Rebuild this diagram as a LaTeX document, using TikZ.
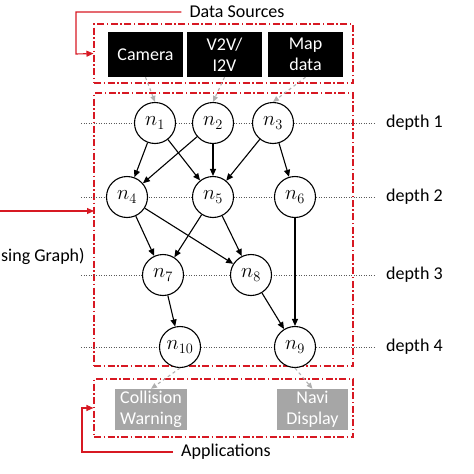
\documentclass[tikz,border=0pt]{standalone}
\usepackage{fontspec}
\setmainfont{Carlito}
\usetikzlibrary{arrows.meta}
\definecolor{boxred}{RGB}{215,25,35}
\definecolor{appgray}{RGB}{166,166,166}
\definecolor{arrgray}{RGB}{175,175,175}
\definecolor{dotgray}{RGB}{90,90,90}
\begin{document}
\begin{tikzpicture}[x=1pt,y=-1pt,
  every node/.style={font=\fontsize{18}{21}\selectfont},
  grpbox/.style={draw=boxred,line width=1.1pt,dash pattern=on 7pt off 2.5pt on 1.5pt off 2.5pt},
  srcbox/.style={fill=black,text=white,minimum width=75pt,minimum height=45pt,align=center,inner sep=0pt},
  appbox/.style={fill=appgray,text=white,minimum width=72pt,minimum height=41pt,align=center,inner sep=0pt,font=\fontsize{18}{20.5}\selectfont},
  task/.style={circle,draw,fill=white,line width=1.1pt,minimum size=41pt,inner sep=0pt,font=\fontsize{20}{22}\selectfont},
  dep/.style={draw,line width=1.1pt,-{Triangle[length=7pt,width=6pt]}},
  feed/.style={draw=arrgray,line width=1.1pt,dashed,-{Triangle[length=6pt,width=5pt]}},
  pointer/.style={draw=boxred,line width=1.1pt,-{Triangle[length=7pt,width=6pt]}},
  level/.style={draw=dotgray,line width=0.6pt,dash pattern=on 1pt off 1.5pt},
  lab/.style={inner sep=0pt,anchor=west}]
\useasboundingbox (0,0) rectangle (474,474);

% group boxes
\node[grpbox,minimum width=259pt,minimum height=59pt,inner sep=0pt] (dsbox) at (223.5,53.5) {};
\node[grpbox,minimum width=259pt,minimum height=273pt,inner sep=0pt] (gbox) at (223.5,229.5) {};
\node[grpbox,minimum width=259pt,minimum height=58pt,inner sep=0pt] (abox) at (223.5,408) {};

% depth lines
\coordinate (d1a) at (81,123); \coordinate (d1b) at (375,123);
\coordinate (d2a) at (81,197); \coordinate (d2b) at (375,197);
\coordinate (d3a) at (81,275); \coordinate (d3b) at (375,275);
\coordinate (d4a) at (81,347); \coordinate (d4b) at (375,347);
\draw[level] (d1a) -- (d1b);
\draw[level] (d2a) -- (d2b);
\draw[level] (d3a) -- (d3b);
\draw[level] (d4a) -- (d4b);
\node[lab] (l1) at (386,123) {depth 1};
\node[lab] (l2) at (386,197) {depth 2};
\node[lab] (l3) at (386,275) {depth 3};
\node[lab] (l4) at (386,347) {depth 4};

% sources
\node[srcbox] (cam) at (145.5,54.5) {Camera};
\node[srcbox] (v2v) at (224.5,54.5) {V2V/\\I2V};
\node[srcbox] (map) at (305.5,54.5) {Map\\data};

% applications
\node[appbox] (coll) at (151,409.5) {Collision\\Warning};
\node[appbox,minimum width=71pt] (navi) at (312.5,409.5) {Navi\\Display};

% tasks
\node[task] (n1) at (155,123) {$n_1$};
\node[task] (n2) at (213,123) {$n_2$};
\node[task] (n3) at (273,123) {$n_3$};
\node[task] (n4) at (127,197) {$n_4$};
\node[task] (n5) at (213,197) {$n_5$};
\node[task] (n6) at (295,197) {$n_6$};
\node[task] (n7) at (163,275) {$n_7$};
\node[task] (n8) at (251,275) {$n_8$};
\node[task] (n10) at (180,347) {$n_{10}$};
\node[task] (n9) at (295,347) {$n_9$};

% dependencies
\draw[dep] (n1) -- (n4);
\draw[dep] (n1) -- (n5);
\draw[dep] (n2) -- (n4);
\draw[dep] (n2) -- (n5);
\draw[dep] (n3) -- (n5);
\draw[dep] (n3) -- (n6);
\draw[dep] (n4) -- (n7);
\draw[dep] (n4) -- (n8);
\draw[dep] (n5) -- (n7);
\draw[dep] (n5) -- (n8);
\draw[dep] (n6) -- (n9);
\draw[dep] (n7) -- (n10);
\draw[dep] (n8) -- (n9);

% data feeds
\draw[feed] (cam.south) -- (n1.north);
\draw[feed] (v2v.south) -- (n2.north);
\draw[feed] (map.south) -- (n3.north);
\draw[feed] (n10.south) -- (coll.north);
\draw[feed] (n9.south) -- (navi.north);

% labels and pointers
\node[inner sep=0pt] (dslab) at (237,12) {Data Sources};
\coordinate (dsk) at (76,54);
\draw[pointer] ([xshift=-8pt]dslab.west) -| (dsk) -- (dsbox.west);

\node[inner sep=0pt,anchor=west] (glab) at (1,256) {sing Graph)};
\coordinate (gl) at (0,211);
\coordinate (gr) at (94,211);
\draw[pointer] (gl) -- (gr);

\node[inner sep=0pt] (alab) at (226,452) {Applications};
\coordinate (ak) at (82,452);
\draw[pointer] ([xshift=-8pt]alab.west) -- (ak) |- (abox.west);
\end{tikzpicture}
\end{document}
